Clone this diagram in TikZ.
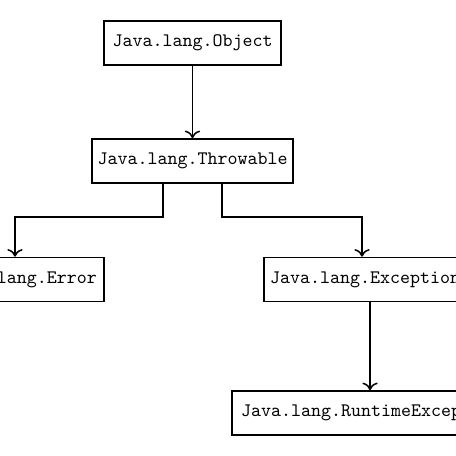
\documentclass[tikz,border=0pt]{standalone}
\usetikzlibrary{arrows.meta}
\begin{document}
\begin{tikzpicture}[x=0.525pt,y=-0.525pt,
  box/.style={draw,line width=0.8pt,inner sep=0pt,minimum height=23.1pt,font=\ttfamily\fontsize{10pt}{12pt}\selectfont},
  conn/.style={line width=0.8pt,-{To[length=4pt,width=8pt]}}]
\useasboundingbox (0,0) rectangle (456,456);
\node[box,minimum width=177*0.525pt] (obj) at (192.5,43) {Java.lang.Object};
\node[box,minimum width=201*0.525pt] (thr) at (192.5,161) {Java.lang.Throwable};
\node[box,minimum width=164*0.525pt] (err) at (22,279.5) {Java.lang.Error};
\node[box,minimum width=202*0.525pt] (exc) at (365,279.5) {Java.lang.Exception};
\node[box,minimum width=278*0.525pt] (rte) at (371,413) {Java.lang.RuntimeException};
\coordinate (xl) at (163,0);
\coordinate (xr) at (222,0);
\coordinate (xe) at (15,0);
\coordinate (xx) at (362,0);
\coordinate (xrt) at (370,0);
\draw[conn] (obj.south) -- (thr.north);
\draw[conn] (thr.south -| xl) -- ++(0,33) -| (err.north -| xe);
\draw[conn] (thr.south -| xr) -- ++(0,33) -| (exc.north -| xx);
\draw[conn] (exc.south -| xrt) -- (rte.north -| xrt);
\end{tikzpicture}
\end{document}
